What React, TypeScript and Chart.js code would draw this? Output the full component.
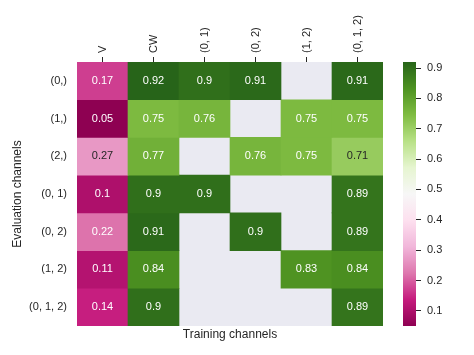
import { useEffect, useRef } from "react";
import { Chart, registerables } from "chart.js";

Chart.register(...registerables);

const trainingChannels = ["V", "CW", "(0, 1)", "(0, 2)", "(1, 2)", "(0, 1, 2)"];
const evaluationChannels = ["(0,)", "(1,)", "(2,)", "(0, 1)", "(0, 2)", "(1, 2)", "(0, 1, 2)"];

const evalRow0 = [0.17, 0.92, 0.9, 0.91, null, 0.91];
const evalRow1 = [0.05, 0.75, 0.76, null, 0.75, 0.75];
const evalRow2 = [0.27, 0.77, null, 0.76, 0.75, 0.71];
const evalRow01 = [0.1, 0.9, 0.9, null, null, 0.89];
const evalRow02 = [0.22, 0.91, null, 0.9, null, 0.89];
const evalRow12 = [0.11, 0.84, null, null, 0.83, 0.84];
const evalRow012 = [0.14, 0.9, null, null, null, 0.89];

const cellRows: (number | null)[][] = [evalRow0, evalRow1, evalRow2, evalRow01, evalRow02, evalRow12, evalRow012];

const colorbarTicks = [0.1, 0.2, 0.3, 0.4, 0.5, 0.6, 0.7, 0.8, 0.9];

const PIYG: [number, number, number][] = [
  [142, 1, 82],
  [197, 27, 125],
  [222, 119, 174],
  [241, 182, 218],
  [253, 224, 239],
  [247, 247, 247],
  [230, 245, 208],
  [184, 225, 134],
  [127, 188, 65],
  [77, 146, 33],
  [39, 100, 25],
];

const allVals = cellRows.flat().filter((v): v is number => v !== null);
const vmin = Math.min(...allVals);
const vmax = Math.max(...allVals);

function piyg(t: number): [number, number, number] {
  const c = Math.max(0, Math.min(1, t)) * 10;
  const i = Math.min(9, Math.floor(c));
  const f = c - i;
  const a = PIYG[i];
  const b = PIYG[i + 1];
  return [a[0] + (b[0] - a[0]) * f, a[1] + (b[1] - a[1]) * f, a[2] + (b[2] - a[2]) * f];
}

function rgbStr(c: [number, number, number]) {
  return `rgb(${Math.round(c[0])},${Math.round(c[1])},${Math.round(c[2])})`;
}

function luminance(c: [number, number, number]) {
  const lin = c.map((x) => {
    const s = x / 255;
    return s <= 0.03928 ? s / 12.92 : Math.pow((s + 0.055) / 1.055, 2.4);
  });
  return 0.2126 * lin[0] + 0.7152 * lin[1] + 0.0722 * lin[2];
}

const cellColor = (v: number) => piyg((v - vmin) / (vmax - vmin));

const FONT = "'Liberation Sans', Arial, sans-serif";
const TXT = "#262626";

export default function App() {
  const mainRef = useRef<HTMLCanvasElement>(null);
  const cbRef = useRef<HTMLCanvasElement>(null);

  useEffect(() => {
    Chart.defaults.font.family = FONT;

    const bgPlugin = {
      id: "heatBg",
      beforeDatasetsDraw(chart: any) {
        const { ctx, chartArea } = chart;
        ctx.save();
        ctx.fillStyle = "#eaeaf2";
        ctx.fillRect(chartArea.left, chartArea.top, chartArea.right - chartArea.left, chartArea.bottom - chartArea.top);
        ctx.restore();
      },
    };

    const annotPlugin = {
      id: "annot",
      afterDatasetsDraw(chart: any) {
        const { ctx } = chart;
        const xs = chart.scales.x;
        const ys = chart.scales.y;
        ctx.save();
        ctx.font = `11px ${FONT}`;
        ctx.textAlign = "center";
        ctx.textBaseline = "middle";
        cellRows.forEach((row, ri) => {
          row.forEach((v, ci) => {
            if (v === null) return;
            const lum = luminance(cellColor(v));
            ctx.fillStyle = lum > 0.408 ? TXT : "#ffffff";
            ctx.fillText(String(v), xs.getPixelForValue(ci), ys.getPixelForValue(ri));
          });
        });
        ctx.restore();
      },
    };

    const datasets = cellRows.map((row, ri) => ({
      label: evaluationChannels[ri],
      data: row.map((v) => (v === null ? null : [ri - 0.5, ri + 0.5])),
      backgroundColor: row.map((v) => (v === null ? "rgba(0,0,0,0)" : rgbStr(cellColor(v)))),
      borderWidth: 0,
      grouped: false,
      barPercentage: 1,
      categoryPercentage: 1,
    }));

    const main = new Chart(mainRef.current!, {
      type: "bar",
      data: { labels: trainingChannels, datasets: datasets as any },
      options: {
        animation: false,
        responsive: false,
        devicePixelRatio: 1,
        layout: { padding: { left: 0, right: 91, top: 0, bottom: 0 } },
        plugins: { legend: { display: false }, tooltip: { enabled: false } },
        scales: {
          x: {
            type: "category",
            position: "top",
            offset: true,
            grid: { display: true, offset: false, drawOnChartArea: false, drawTicks: true, tickLength: 5, color: TXT, lineWidth: 1 },
            border: { display: false },
            ticks: { minRotation: 90, maxRotation: 90, padding: 4, labelOffset: 13.2, color: TXT, font: { size: 11 }, autoSkip: false },
            afterFit: (s: any) => {
              s.height = 62;
            },
          },
          x2: {
            type: "category",
            position: "bottom",
            labels: trainingChannels,
            grid: { display: false, drawTicks: false },
            border: { display: false },
            ticks: { display: false },
            title: { display: true, text: "Training channels", color: TXT, font: { size: 12 }, padding: { top: 0, bottom: 12.8 } },
            afterFit: (s: any) => {
              s.height = 29;
            },
          },
          y: {
            type: "linear",
            min: -0.5,
            max: 6.5,
            reverse: true,
            afterBuildTicks: (s: any) => {
              s.ticks = evaluationChannels.map((_, i) => ({ value: i }));
            },
            grid: { display: false, drawTicks: false },
            border: { display: false },
            ticks: {
              padding: 10,
              color: TXT,
              font: { size: 11 },
              callback: (v: any) => evaluationChannels[v] ?? "",
            },
            title: { display: true, text: "Evaluation channels", color: TXT, font: { size: 12 }, padding: { top: 10.8, bottom: 0 } },
            afterFit: (s: any) => {
              s.width = 77;
            },
          },
        },
      } as any,
      plugins: [bgPlugin, annotPlugin],
    });

    const gradPlugin = {
      id: "cbGrad",
      beforeDatasetsDraw(chart: any) {
        const { ctx, chartArea } = chart;
        const ys = chart.scales.y;
        const y0 = ys.getPixelForValue(vmin);
        const y1 = ys.getPixelForValue(vmax);
        const g = ctx.createLinearGradient(0, y0, 0, y1);
        PIYG.forEach((c, i) => g.addColorStop(i / 10, rgbStr(c)));
        ctx.save();
        ctx.fillStyle = g;
        ctx.fillRect(chartArea.left, chartArea.top, chartArea.right - chartArea.left, chartArea.bottom - chartArea.top);
        ctx.restore();
      },
    };

    const cb = new Chart(cbRef.current!, {
      type: "bar",
      data: { labels: [""], datasets: [{ data: [] }] },
      options: {
        animation: false,
        responsive: false,
        devicePixelRatio: 1,
        layout: { padding: { left: 20, right: 0, top: 62, bottom: 29 } },
        plugins: { legend: { display: false }, tooltip: { enabled: false } },
        scales: {
          x: { display: false },
          y: {
            type: "linear",
            position: "right",
            min: vmin,
            max: vmax,
            afterBuildTicks: (s: any) => {
              s.ticks = colorbarTicks.map((v) => ({ value: v }));
            },
            grid: { drawOnChartArea: false, drawTicks: true, tickLength: 5, color: TXT, lineWidth: 1 },
            border: { display: false },
            ticks: {
              padding: 6,
              color: TXT,
              font: { size: 11 },
              callback: (v: any) => Number(v).toFixed(1),
            },
            afterFit: (s: any) => {
              s.width = 58;
            },
          },
        },
      } as any,
      plugins: [gradPlugin],
    });

    return () => {
      main.destroy();
      cb.destroy();
    };
  }, []);

  return (
    <div style={{ position: "fixed", left: 0, top: 0, width: 474, height: 355, background: "#ffffff" }}>
      <canvas
        ref={mainRef}
        width={474}
        height={355}
        style={{ position: "absolute", left: 0, top: 0, width: 474, height: 355 }}
      />
      <canvas
        ref={cbRef}
        width={91}
        height={355}
        style={{ position: "absolute", left: 383, top: 0, width: 91, height: 355 }}
      />
    </div>
  );
}
